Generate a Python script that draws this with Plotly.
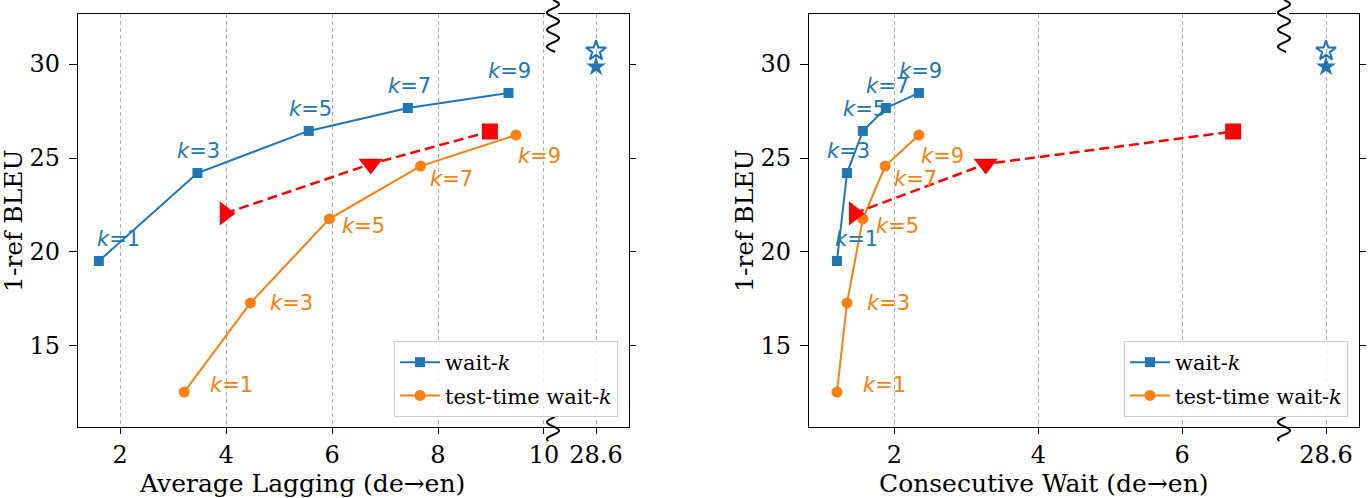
import math
import plotly.graph_objects as go

W, H = 1369, 498

# ---------------- data ----------------
ks = [1, 3, 5, 7, 9]
k_labels = ["<i>k</i>=%d" % k for k in ks]

# Average Lagging panel
al_waitk = [1.60, 3.46, 5.56, 7.43, 9.33]
al_test = [3.21, 4.46, 5.95, 7.67, 9.47]
al_red = [3.98, 6.73, 8.98]

# Consecutive Wait panel
cw_waitk = [1.20, 1.34, 1.56, 1.88, 2.34]
cw_test = [1.20, 1.34, 1.56, 1.87, 2.34]
cw_red = [1.44, 3.27, 6.71]

# BLEU values (shared)
bleu_waitk = [19.52, 24.20, 26.44, 27.66, 28.46]
bleu_test = [12.55, 17.29, 21.76, 24.57, 26.22]
bleu_red = [22.05, 24.68, 26.41]

# full-sentence references (plotted at x = 28.6)
full_x = [28.6]
full_bleu_filled = [29.85]
full_bleu_open = [30.70]

al_ticks = [2, 4, 6, 8, 10]
cw_ticks = [2, 4, 6]
y_ticks = [15, 20, 25, 30]

BLUE = "#1f77b4"
ORANGE = "#ff7f0e"
RED = "#ff0000"
SERIF = "DejaVu Serif"
SANS = "DejaVu Sans"

# label pixel offsets (dx right, dy down) relative to points
blue_off = [(-4, -22), (-22, -22), (-22, -22), (-22, -22), (-22, -22)]
orange_off = [(24, -7), (18, 0), (11, 7), (7, 13), (0, 21)]

# ---------------- layout geometry (pixels) ----------------
ytop, ybot = 14, 427
panels = [
    dict(l=78, brk=553, r=629, xr=[1.206, 10.17], xr2=[28.034, 29.034], tx=302,
         xs=al_waitk, xt=al_test, xred=al_red, ticks=al_ticks,
         xtitle="Average Lagging (de→en)"),
    dict(l=809, brk=1284, r=1359, xr=[0.811, 7.417], xr2=[28.04, 29.04], tx=1043,
         xs=cw_waitk, xt=cw_test, xred=cw_red, ticks=cw_ticks,
         xtitle="Consecutive Wait (de→en)"),
]

fig = go.Figure()
ydom = [1 - ybot / H, 1 - ytop / H]
axis_common = dict(showline=True, linecolor="black", linewidth=1.2, zeroline=False,
                   ticks="outside", tickcolor="black", tickwidth=1.2,
                   tickfont=dict(family=SERIF, size=24, color="black"))
grid_style = dict(showgrid=True, gridcolor="#b0b0b0", griddash="4px,3px", gridwidth=1)

annotations = []
shapes = []

def wave_path(xc, y0, y1, amp=6.0, period=17.0, phase=0.0):
    n = 80
    pts = []
    for i in range(n + 1):
        yy = y0 + (y1 - y0) * i / n
        xx = xc + amp * math.sin(2 * math.pi * (yy - y0) / period + phase)
        pts.append("%.5f,%.5f" % (xx / W, 1 - yy / H))
    return "M" + " L".join(pts)

for i, p in enumerate(panels):
    a = 2 * i + 1
    b = 2 * i + 2
    xa, ya = ("x" if a == 1 else "x%d" % a), ("y" if a == 1 else "y%d" % a)
    xb, yb = "x%d" % b, "y%d" % b
    xan, yan = ("xaxis" if a == 1 else "xaxis%d" % a), ("yaxis" if a == 1 else "yaxis%d" % a)
    xbn, ybn = "xaxis%d" % b, "yaxis%d" % b
    leg = "legend" if i == 0 else "legend2"

    fig.update_layout({
        xan: dict(domain=[p["l"] / W, p["brk"] / W], range=p["xr"], anchor=ya,
                  tickvals=p["ticks"], ticktext=[str(t) for t in p["ticks"]],
                  ticklen=6, mirror=True, **grid_style, **axis_common),
        xbn: dict(domain=[p["brk"] / W, p["r"] / W], range=p["xr2"], anchor=yb,
                  tickvals=full_x, ticktext=["28.6"], ticklen=6, mirror=True,
                  **grid_style, **axis_common),
        yan: dict(domain=ydom, range=[10.69, 32.66], anchor=xa, tickvals=y_ticks,
                  ticktext=[str(t) for t in y_ticks], ticklen=8, showgrid=False,
                  ticklabelstandoff=4, **axis_common),
        ybn: dict(domain=ydom, range=[10.69, 32.66], anchor=xb, side="right",
                  tickvals=y_ticks, showticklabels=False, ticklen=6, showgrid=False,
                  **axis_common),
    })

    fig.add_trace(go.Scatter(x=p["xs"], y=bleu_waitk, xaxis=xa, yaxis=ya,
                             mode="lines+markers", name="wait-<i>k</i>",
                             line=dict(color=BLUE, width=2),
                             marker=dict(symbol="square", size=10, color=BLUE, opacity=1),
                             legend=leg, legendgroup="a%d" % i))
    fig.add_trace(go.Scatter(x=p["xt"], y=bleu_test, xaxis=xa, yaxis=ya,
                             mode="lines+markers", name="test-time wait-<i>k</i>",
                             line=dict(color=ORANGE, width=2),
                             marker=dict(symbol="circle", size=11, color=ORANGE, opacity=1),
                             legend=leg, legendgroup="b%d" % i))
    fig.add_trace(go.Scatter(x=p["xred"], y=bleu_red, xaxis=xa, yaxis=ya,
                             mode="lines+markers", showlegend=False,
                             line=dict(color=RED, width=2.5, dash="10px,5px"),
                             marker=dict(symbol=["triangle-right", "triangle-down", "square"],
                                         size=[21, 21, 16], color=RED, opacity=1,
                                         line=dict(width=0))))
    fig.add_trace(go.Scatter(x=full_x, y=full_bleu_filled, xaxis=xb, yaxis=yb,
                             mode="markers", showlegend=False,
                             marker=dict(symbol="star", size=15, color=BLUE, opacity=1)))
    fig.add_trace(go.Scatter(x=full_x, y=full_bleu_open, xaxis=xb, yaxis=yb,
                             mode="markers", showlegend=False,
                             marker=dict(symbol="star-open", size=15, color=BLUE, opacity=1,
                                         line=dict(width=2, color=BLUE))))

    for j in range(len(ks)):
        dx, dy = blue_off[j]
        annotations.append(dict(x=p["xs"][j], y=bleu_waitk[j], xref=xa, yref=ya,
                                text=k_labels[j], showarrow=False, xanchor="left",
                                yanchor="middle", xshift=dx, yshift=-dy,
                                font=dict(family=SANS, size=21, color=BLUE)))
        dx, dy = orange_off[j]
        annotations.append(dict(x=p["xt"][j], y=bleu_test[j], xref=xa, yref=ya,
                                text=k_labels[j], showarrow=False, xanchor="left",
                                yanchor="middle", xshift=dx, yshift=-dy,
                                font=dict(family=SANS, size=21, color=ORANGE)))

    # axis titles
    annotations.append(dict(x=p["tx"] / W, y=1 - 483 / H, xref="paper",
                            yref="paper", text=p["xtitle"], showarrow=False,
                            xanchor="center", yanchor="middle",
                            font=dict(family=SERIF, size=25, color="black")))
    annotations.append(dict(x=(p["l"] - 64) / W, y=1 - 221 / H, xref="paper",
                            yref="paper", text="1-ref BLEU", showarrow=False,
                            textangle=-90, xanchor="center", yanchor="middle",
                            font=dict(family=SERIF, size=25, color="black")))

    # break marks
    shapes.append(dict(type="line", xref="paper", yref="paper",
                       x0=(p["brk"] - 8) / W, x1=(p["brk"] + 5) / W,
                       y0=1 - ytop / H, y1=1 - ytop / H,
                       line=dict(color="white", width=3), layer="above"))
    shapes.append(dict(type="path", xref="paper", yref="paper",
                       path=wave_path(p["brk"], 0, 52), line=dict(color="black", width=2),
                       layer="above"))
    shapes.append(dict(type="path", xref="paper", yref="paper",
                       path=wave_path(p["brk"], 417, 441, phase=math.pi * 0.9),
                       line=dict(color="black", width=2), layer="above"))

legend_style = dict(bgcolor="rgba(255,255,255,0.8)", bordercolor="#cccccc", borderwidth=1,
                    font=dict(family=SERIF, size=21, color="black"),
                    xanchor="right", yanchor="bottom", tracegroupgap=3,
                    traceorder="grouped", itemwidth=40)
fig.update_layout(
    width=W, height=H,
    margin=dict(l=0, r=0, t=0, b=0, autoexpand=False),
    paper_bgcolor="white", plot_bgcolor="white",
    showlegend=True,
    legend=dict(x=618 / W, y=1 - 417 / H, **legend_style),
    legend2=dict(x=1348 / W, y=1 - 417 / H, **legend_style),
    annotations=annotations,
    shapes=shapes,
)

fig.write_html("out.html")
